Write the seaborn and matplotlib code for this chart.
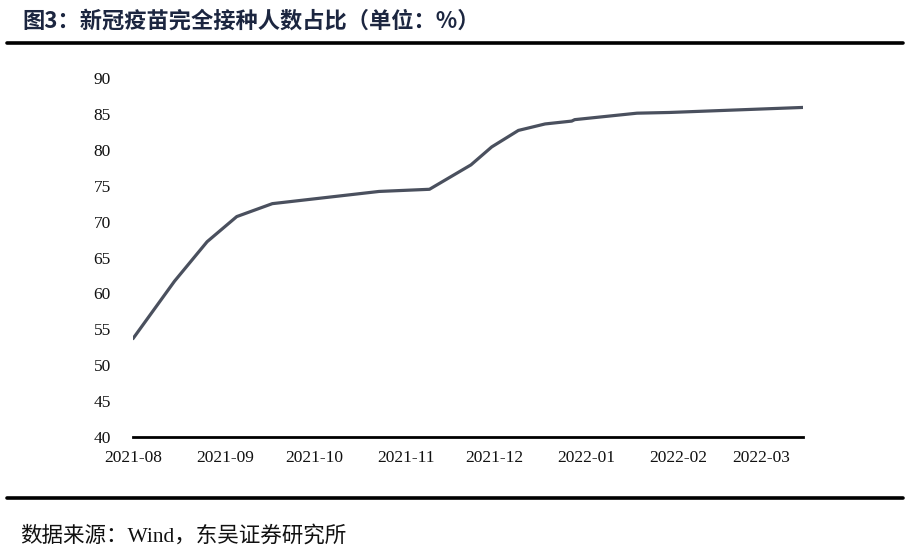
import matplotlib
matplotlib.use('Agg')
import matplotlib.pyplot as plt
import matplotlib.dates as mdates
import pandas as pd
import seaborn as sns

# values (share of people fully vaccinated, %)
dates = ['2021-08-01', '2021-08-15', '2021-08-26', '2021-09-05', '2021-09-17',
         '2021-10-23', '2021-11-09', '2021-11-23', '2021-11-30', '2021-12-09',
         '2021-12-18', '2021-12-27', '2021-12-28', '2022-01-18', '2022-01-29',
         '2022-03-15']
share = [53.7, 61.7, 67.2, 70.7, 72.5,
         74.2, 74.5, 77.9, 80.4, 82.7,
         83.6, 84.0, 84.2, 85.1, 85.2,
         85.9]
month_ticks = ['2021-08', '2021-09', '2021-10', '2021-11', '2021-12',
               '2022-01', '2022-02', '2022-03']
y_ticks = [40, 45, 50, 55, 60, 65, 70, 75, 80, 85, 90]

title = '图3：新冠疫苗完全接种人数占比（单位：%）'
source = '数据来源：Wind，东吴证券研究所'

df = pd.DataFrame({'date': pd.to_datetime(dates), 'share': share})

sns.set_style('white')
plt.rcParams['font.family'] = ['Liberation Serif', 'Noto Sans CJK SC', 'DejaVu Sans']

fig = plt.figure(figsize=(9.1, 5.6), dpi=100)
ax = fig.add_axes([133 / 910, 1 - 437 / 560, 670 / 910, 359 / 560])

sns.lineplot(data=df, x='date', y='share', ax=ax, color='#4a505e', linewidth=2.3)

ax.set_xlim(pd.Timestamp('2021-08-01'), pd.Timestamp('2022-03-15'))
ax.set_ylim(40, 90)
ax.set_yticks(y_ticks)
ax.set_xticks(pd.to_datetime([m + '-01' for m in month_ticks]))
ax.xaxis.set_major_formatter(mdates.DateFormatter('%Y-%m'))
ax.set_xlabel('')
ax.set_ylabel('')
ax.tick_params(axis='y', length=0, pad=16, labelsize=12.5, colors='#111111')
ax.tick_params(axis='x', length=0, pad=9, labelsize=12.5, colors='#111111')

for side in ['top', 'right', 'left']:
    ax.spines[side].set_visible(False)
ax.spines['bottom'].set_color('black')
ax.spines['bottom'].set_linewidth(2)

# header and footer
fig.text(22 / 910, 1 - 21 / 560, title, fontsize=16, fontweight='bold',
         color='#1c2640', va='center', ha='left',
         family=['Noto Sans CJK SC', 'DejaVu Sans'])
fig.add_artist(plt.Line2D([7 / 910, 903 / 910], [1 - 43 / 560, 1 - 43 / 560],
                          color='black', linewidth=2.6))
fig.add_artist(plt.Line2D([7 / 910, 903 / 910], [1 - 498 / 560, 1 - 498 / 560],
                          color='black', linewidth=2.6))
fig.text(20 / 910, 1 - 536 / 560, source, fontsize=15.5, color='#111111',
         va='center', ha='left')

fig.savefig('out.png', dpi=100)
plt.close(fig)
